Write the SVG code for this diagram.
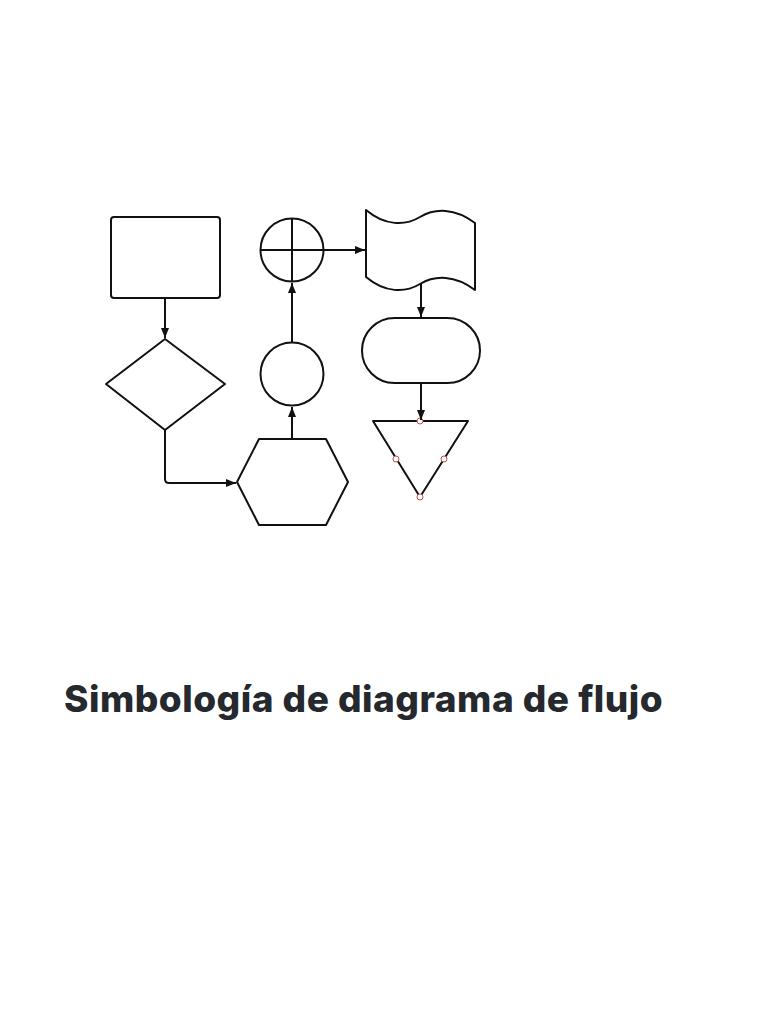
<svg xmlns="http://www.w3.org/2000/svg" width="768" height="1024" viewBox="0 0 768 1024">
<style>
.s{fill:#fff;stroke:#111;stroke-width:2;stroke-linejoin:round}
.c{fill:none;stroke:#111;stroke-width:2;stroke-linejoin:round}
.p{fill:#fff;stroke:#c0504d;stroke-width:1}
.t{font-family:Inter,"Liberation Sans",sans-serif;font-weight:800;font-size:37px;letter-spacing:0.5px;fill:#25282d}
</style>
<defs>
<marker id="a" markerUnits="userSpaceOnUse" markerWidth="10" markerHeight="8" refX="10" refY="4" orient="auto">
<path d="M0,0 L10,4 L0,8 z" fill="#111"/>
</marker>
</defs>
<rect width="768" height="1024" fill="#fff"/>
<g id="process"><rect class="s" x="111" y="217" width="109" height="81" rx="3"/></g>
<g id="decision"><polygon class="s" points="165,339 225,384 165,430 106,384"/></g>
<g id="preparation"><polygon class="s" points="237,482 259,439 326,439 348,482 326,525 259,525"/></g>
<g id="connector"><circle class="s" cx="292" cy="374" r="31.5"/></g>
<g id="summing"><circle class="s" cx="292" cy="250" r="31.5"/><path class="c" d="M292,218.5 V281.5 M260.5,250 H323.5"/></g>
<g id="tape"><path class="s" d="M366,210 C385,226 405,226 420,217 C435,208 455,208 475,223 L475,290 C455,275 435,275 420,284 C405,293 385,293 366,277 Z"/></g>
<g id="terminator"><rect class="s" x="362" y="318" width="118" height="65" rx="32.5"/></g>
<g id="merge"><polygon class="s" points="373,421 468,421 420,497"/>
<circle class="p" cx="420" cy="421" r="3"/><circle class="p" cx="396" cy="459" r="3"/><circle class="p" cx="444" cy="459" r="3"/><circle class="p" cx="420" cy="497" r="3"/></g>
<g id="connectors">
<path class="c" d="M165,298 V338" marker-end="url(#a)"/>
<path class="c" d="M165,430 V479 Q165,483 169,483 H236" marker-end="url(#a)"/>
<path class="c" d="M292,439 V407" marker-end="url(#a)"/>
<path class="c" d="M292,342 V283" marker-end="url(#a)"/>
<path class="c" d="M323.5,250 H365" marker-end="url(#a)"/>
<path class="c" d="M421,284 V317" marker-end="url(#a)"/>
<path class="c" d="M421,383 V420" marker-end="url(#a)"/>
</g>
<text class="t" x="64" y="712">Simbología de diagrama de flujo</text>
</svg>
